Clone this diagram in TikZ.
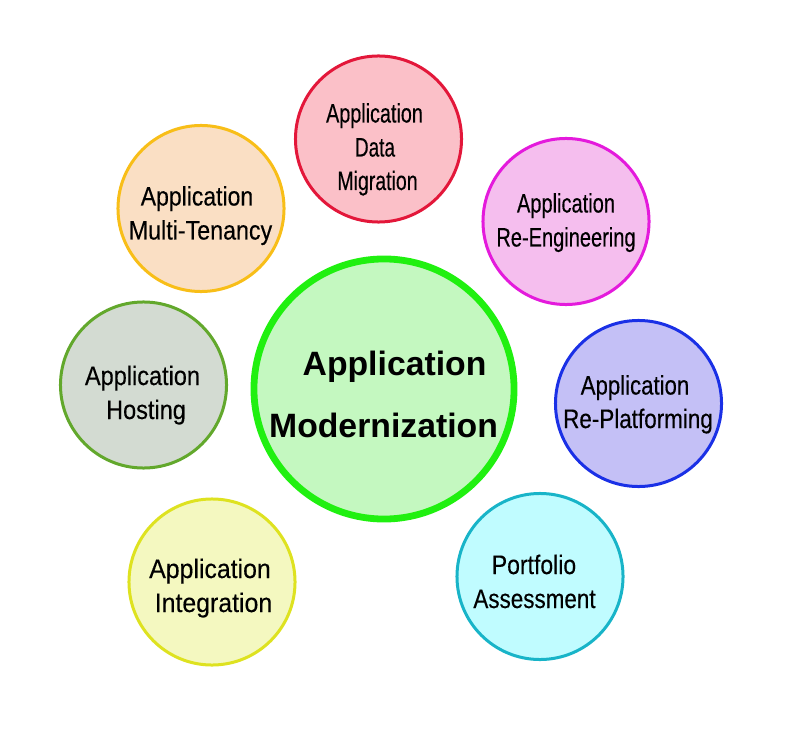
\documentclass[tikz,border=0pt]{standalone}
\usepackage{fontspec}
\setmainfont{Liberation Sans}
\newcommand{\narrowfont}[1]{\fontspec{Liberation Sans}[FakeStretch=#1,FakeBold=0.3]}
\usepackage{xcolor}

\definecolor{dataline}{HTML}{E3173A}
\definecolor{datafill}{HTML}{FBC0C8}
\definecolor{reengline}{HTML}{E41ADC}
\definecolor{reengfill}{HTML}{F5BEEE}
\definecolor{platline}{HTML}{1A30E6}
\definecolor{platfill}{HTML}{C4C0F6}
\definecolor{portline}{HTML}{18B4C8}
\definecolor{portfill}{HTML}{C0FCFF}
\definecolor{integline}{HTML}{DEE220}
\definecolor{integfill}{HTML}{F4F8C0}
\definecolor{hostline}{HTML}{62A82C}
\definecolor{hostfill}{HTML}{D3DBD2}
\definecolor{tenline}{HTML}{F8BE18}
\definecolor{tenfill}{HTML}{FADFC4}
\definecolor{coreline}{HTML}{20F010}
\definecolor{corefill}{HTML}{C4F8C0}

\tikzset{
    bubble/.style={circle, draw=#1, line width=0.075cm, minimum size=4.15cm, inner sep=0pt},
    lbl/.style={anchor=base, inner sep=0pt, font=\narrowfont{#1}\fontsize{19}{19}\selectfont, text=black},
    corelbl/.style={anchor=base, inner sep=0pt, font=\bfseries\fontsize{24}{24}\selectfont, text=black}
}

\begin{document}
\begin{tikzpicture}[x=0.025cm, y=-0.025cm]
    \useasboundingbox (0,0) rectangle (800,747);

    % Centre
    \node[bubble=coreline, fill=corefill, line width=0.17cm, minimum size=6.5cm] (core) at (384,389) {};
    \node[corelbl] (coreA) at (394.5,375) {Application};
    \node[corelbl] (coreB) at (383.5,437) {Modernization};

    % Data migration
    \node[bubble=dataline, fill=datafill] (data) at (378.5,139) {};
    \node[lbl=0.74] (dataA) at (374.5,122.5) {Application};
    \node[lbl=0.71] (dataB) at (375,156.5) {Data};
    \node[lbl=0.73] (dataC) at (377.5,190) {Migration};

    % Re-engineering
    \node[bubble=reengline, fill=reengfill] (reeng) at (566,221.5) {};
    \node[lbl=0.75] (reengA) at (566,212.5) {Application};
    \node[lbl=0.75] (reengB) at (566,246.5) {Re-Engineering};

    % Re-platforming
    \node[bubble=platline, fill=platfill] (plat) at (638.5,403.5) {};
    \node[lbl=0.83] (platA) at (635,394.5) {Application};
    \node[lbl=0.84] (platB) at (638,428) {Re-Platforming};

    % Portfolio
    \node[bubble=portline, fill=portfill] (port) at (540,576.5) {};
    \node[lbl=0.86] (portA) at (534,574) {Portfolio};
    \node[lbl=0.84] (portB) at (534.5,608) {Assessment};

    % Integration
    \node[bubble=integline, fill=integfill] (integ) at (212,582) {};
    \node[lbl=0.93] (integA) at (210,578) {Application};
    \node[lbl=0.93] (integB) at (213.5,612) {Integration};

    % Hosting
    \node[bubble=hostline, fill=hostfill] (host) at (143.5,385) {};
    \node[lbl=0.88] (hostA) at (142.5,385) {Application};
    \node[lbl=0.88] (hostB) at (146,419) {Hosting};

    % Multi-tenancy
    \node[bubble=tenline, fill=tenfill] (ten) at (201,208.5) {};
    \node[lbl=0.86] (tenA) at (197,205.5) {Application};
    \node[lbl=0.87] (tenB) at (200.5,239.5) {Multi-Tenancy};
\end{tikzpicture}
\end{document}
